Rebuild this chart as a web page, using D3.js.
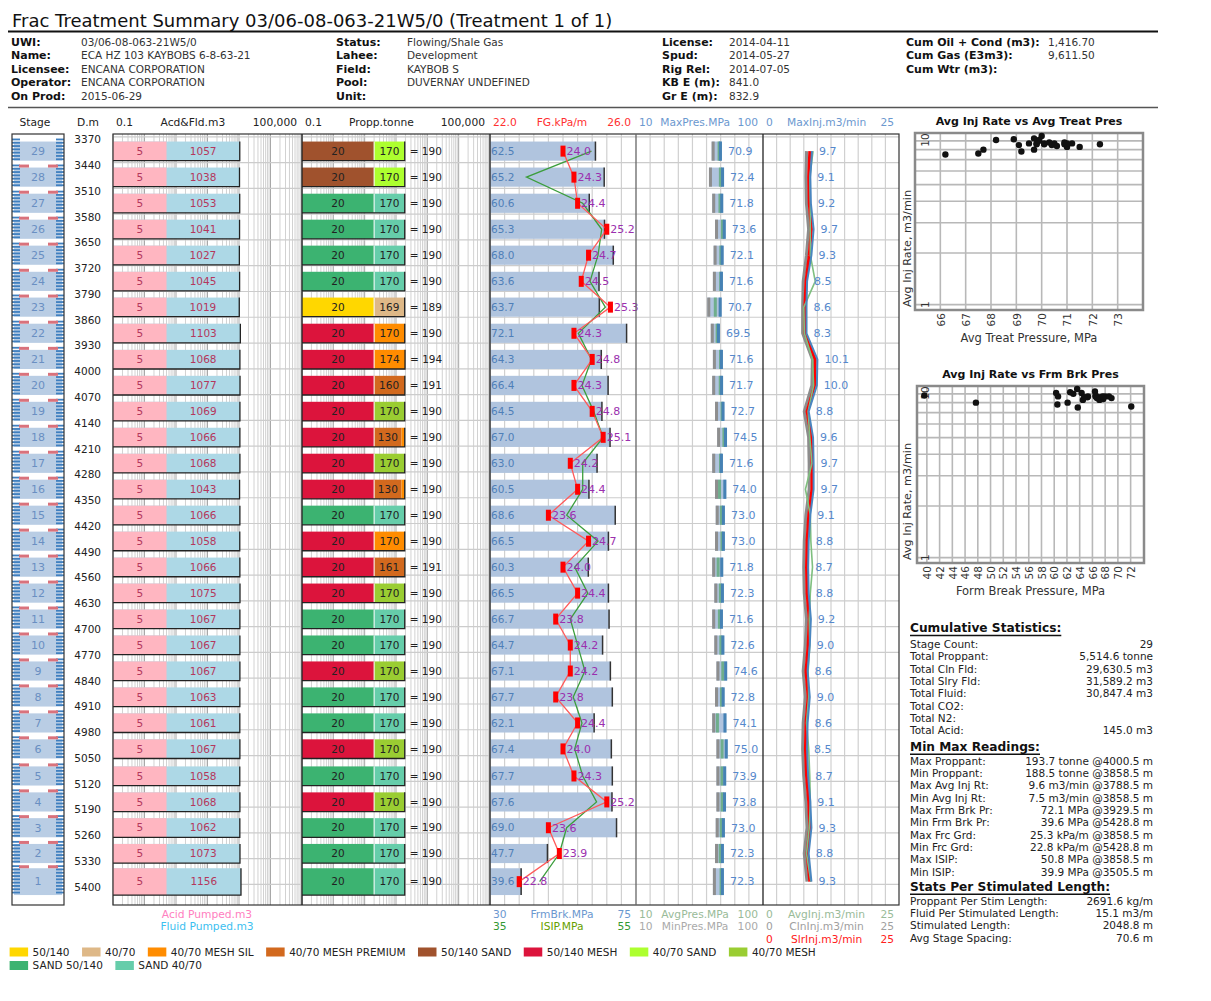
<!DOCTYPE html>
<html>
<head>
<meta charset="utf-8">
<style> body { margin: 0; background: #fff; } </style>
<script src="https://d3js.org/d3.v7.min.js"></script>
</head>
<body>
<div id="chart"></div>
<script>

// ---------- well header ----------
var title = "Frac Treatment Summary 03/06-08-063-21W5/0 (Treatment 1 of 1)";
var headLabels1 = ["UWI:", "Name:", "Licensee:", "Operator:", "On Prod:"];
var headValues1 = ["03/06-08-063-21W5/0", "ECA HZ 103 KAYBOBS 6-8-63-21", "ENCANA CORPORATION", "ENCANA CORPORATION", "2015-06-29"];
var headLabels2 = ["Status:", "Lahee:", "Field:", "Pool:", "Unit:"];
var headValues2 = ["Flowing/Shale Gas", "Development", "KAYBOB S", "DUVERNAY UNDEFINED", ""];
var headLabels3 = ["License:", "Spud:", "Rig Rel:", "KB E (m):", "Gr E (m):"];
var headValues3 = ["2014-04-11", "2014-05-27", "2014-07-05", "841.0", "832.9"];
var headLabels4 = ["Cum Oil + Cond (m3):", "Cum Gas (E3m3):", "Cum Wtr (m3):"];
var headValues4 = ["1,416.70", "9,611.50", ""];

// ---------- stages, listed from the top of the lateral down ----------
var stages = [29,28,27,26,25,24,23,22,21,20,19,18,17,16,15,14,13,12,11,10,9,8,7,6,5,4,3,2,1];
var stageTop  = [3382.9,3453.5,3524.5,3595.0,3665.5,3736.5,3806.5,3877.5,3948.5,4019.0,4089.5,4160.0,4230.5,4301.0,4371.5,4442.0,4512.5,4583.0,4653.5,4724.0,4794.5,4865.0,4935.5,5006.0,5079.5,5150.0,5220.0,5290.0,5356.0];
var stageBase = [3434.9,3505.5,3576.5,3647.0,3717.5,3788.5,3858.5,3929.5,4000.5,4071.0,4141.5,4212.0,4282.5,4353.0,4423.5,4494.0,4564.5,4635.0,4705.5,4776.0,4846.5,4917.0,4987.5,5058.0,5131.5,5202.0,5272.0,5342.0,5428.8];
var depthTicks = [3370,3440,3510,3580,3650,3720,3790,3860,3930,4000,4070,4140,4210,4280,4350,4420,4490,4560,4630,4700,4770,4840,4910,4980,5050,5120,5190,5260,5330,5400];

var acid  = [5,5,5,5,5,5,5,5,5,5,5,5,5,5,5,5,5,5,5,5,5,5,5,5,5,5,5,5,5];
var fluid = [1057,1038,1053,1041,1027,1045,1019,1103,1068,1077,1069,1066,1068,1043,1066,1058,1066,1075,1067,1067,1067,1063,1061,1067,1058,1068,1062,1073,1156];

var prop1 = [20,20,20,20,20,20,20,20,20,20,20,20,20,20,20,20,20,20,20,20,20,20,20,20,20,20,20,20,20];
var prop2 = [170,170,170,170,170,170,169,170,174,160,170,130,170,130,170,170,161,170,170,170,170,170,170,170,170,170,170,170,170];
var prop3 = [0,0,0,0,0,0,0,0,0,11,0,40,0,40,0,0,10,0,0,0,0,0,0,0,0,0,0,0,0];
var propTotal = [190,190,190,190,190,190,189,190,194,191,190,190,190,190,190,190,191,190,190,190,190,190,190,190,190,190,190,190,190];
var prop1Type = ["50/140 SAND","50/140 SAND","SAND 50/140","SAND 50/140","SAND 50/140","SAND 50/140","50/140",
  "50/140 MESH","50/140 MESH","50/140 MESH","50/140 MESH","50/140 MESH","50/140 MESH","50/140 MESH","SAND 50/140",
  "50/140 MESH","50/140 MESH","50/140 MESH","SAND 50/140","SAND 50/140","50/140 MESH","SAND 50/140","SAND 50/140",
  "50/140 MESH","SAND 50/140","50/140 MESH","SAND 50/140","SAND 50/140","SAND 50/140"];
var prop2Type = ["40/70 SAND","40/70 SAND","SAND 40/70","SAND 40/70","SAND 40/70","SAND 40/70","40/70",
  "40/70 MESH SIL","40/70 MESH SIL","40/70 MESH PREMIUM","40/70 MESH","40/70 MESH PREMIUM","40/70 MESH","40/70 MESH PREMIUM","SAND 40/70",
  "40/70 MESH SIL","40/70 MESH PREMIUM","40/70 MESH","SAND 40/70","SAND 40/70","40/70 MESH","SAND 40/70","SAND 40/70",
  "40/70 MESH","SAND 40/70","40/70 MESH","SAND 40/70","SAND 40/70","SAND 40/70"];
var prop3Type = ["","","","","","","","","","40/70 MESH SIL","","40/70 MESH SIL","","40/70 MESH SIL","","","40/70 MESH SIL","","","","","","","","","","","",""];

var fracGrad = [24.0,24.3,24.4,25.2,24.7,24.5,25.3,24.3,24.8,24.3,24.8,25.1,24.2,24.4,23.6,24.7,24.0,24.4,23.8,24.2,24.2,23.8,24.4,24.0,24.3,25.2,23.6,23.9,22.8];
var frmBrk = [62.5,65.2,60.6,65.3,68.0,63.6,63.7,72.1,64.3,66.4,64.5,67.0,63.0,60.5,68.6,66.5,60.3,66.5,66.7,64.7,67.1,67.7,62.1,67.4,67.7,67.6,69.0,47.7,39.6];
var isip = [48.9,40.0,47.7,50.3,49.8,48.7,50.8,47.1,48.9,47.6,49.2,50.5,47.7,47.7,45.5,49.8,46.6,48.4,46.0,47.0,48.0,46.4,47.6,46.6,47.7,49.6,45.5,44.5,41.8];

var maxPres = [70.9,72.4,71.8,73.6,72.1,71.6,70.7,69.5,71.6,71.7,72.7,74.5,71.6,74.0,73.0,73.0,71.8,72.3,71.6,72.6,74.6,72.8,74.1,75.0,73.9,73.8,73.0,72.3,72.3];
var avgPres = [68.9,69.8,69.5,71.2,70.1,70.0,66.2,67.5,69.9,69.7,71.0,72.3,69.9,69.2,70.5,70.9,68.2,69.8,69.1,70.1,71.5,70.6,67.7,71.0,70.9,71.0,70.4,69.7,70.3];
var minPres = [63.6,61.7,64.0,66.0,65.0,64.5,60.5,63.0,64.5,64.0,66.0,67.5,64.0,66.0,66.5,66.0,64.0,65.5,64.0,65.5,67.0,66.0,64.0,67.0,67.0,67.0,66.5,66.0,64.5];

var avgInj = [9.2,8.6,8.7,8.7,8.7,9.6,7.5,7.6,9.1,9.3,8.3,8.6,9.0,7.8,8.7,8.8,9.1,8.7,8.5,8.6,8.3,8.4,8.0,8.4,8.6,8.7,8.5,8.0,8.8];
var maxInj = [9.0,8.7,8.8,9.3,8.9,8.1,8.0,8.0,10.0,9.9,8.4,9.2,9.3,9.3,8.7,8.4,8.3,8.4,8.8,8.6,8.2,8.6,8.2,8.1,8.3,8.7,8.9,8.4,8.9];
var slrInj = [8.6,8.4,8.5,8.9,8.5,7.9,7.7,7.7,9.6,9.5,8.1,8.9,9.0,9.0,8.4,8.1,8.0,8.1,8.5,8.3,7.9,8.3,7.9,7.8,8.0,8.4,8.6,8.1,8.6];
var clnInj = [8.0,7.9,8.0,8.4,8.0,7.4,7.3,7.3,9.1,9.0,7.6,8.4,8.5,8.5,7.9,7.6,7.5,7.6,8.0,7.8,7.4,7.8,7.4,7.3,7.5,7.9,8.1,7.6,8.1];
var injLabel = ["9.7","9.1","9.2","9.7","9.3","8.5","8.6","8.3","10.1","10.0","8.8","9.6","9.7","9.7","9.1","8.8","8.7","8.8","9.2","9.0","8.6","9.0","8.6","8.5","8.7","9.1","9.3","8.8","9.3"];

// ---------- proppant legend ----------
var propTypes  = ["50/140","40/70","40/70 MESH SIL","40/70 MESH PREMIUM","50/140 SAND","50/140 MESH","40/70 SAND","40/70 MESH","SAND 50/140","SAND 40/70"];
var propColors = ["#ffd700","#deb887","#ff8c00","#d2691e","#a0522d","#dc143c","#adff2f","#9acd32","#3cb371","#66cdaa"];

// ---------- scatter axes ----------
var presTicks = [66,67,68,69,70,71,72,73];
var brkTicks = [40,42,44,46,48,50,52,54,56,58,60,62,64,66,68,70,72];
var injTicks = [1,2,3,4,5,6,7,8,9,10];

// ---------- statistics ----------
var statsCum = [["Stage Count:","29"],["Total Proppant:","5,514.6 tonne"],["Total Cln Fld:","29,630.5 m3"],["Total Slry Fld:","31,589.2 m3"],
  ["Total Fluid:","30,847.4 m3"],["Total CO2:",""],["Total N2:",""],["Total Acid:","145.0 m3"]];
var statsMinMax = [["Max Proppant:","193.7 tonne @4000.5 m"],["Min Proppant:","188.5 tonne @3858.5 m"],["Max Avg Inj Rt:","9.6 m3/min @3788.5 m"],
  ["Min Avg Inj Rt:","7.5 m3/min @3858.5 m"],["Max Frm Brk Pr:","72.1 MPa @3929.5 m"],["Min Frm Brk Pr:","39.6 MPa @5428.8 m"],
  ["Max Frc Grd:","25.3 kPa/m @3858.5 m"],["Min Frc Grd:","22.8 kPa/m @5428.8 m"],["Max ISIP:","50.8 MPa @3858.5 m"],["Min ISIP:","39.9 MPa @3505.5 m"]];
var statsLen = [["Proppant Per Stim Length:","2691.6 kg/m"],["Fluid Per Stimulated Length:","15.1 m3/m"],["Stimulated Length:","2048.8 m"],["Avg Stage Spacing:","70.6 m"]];


var FONT = '"DejaVu Sans", Verdana, sans-serif';
var svg = d3.select("#chart").append("svg")
    .attr("width", 1211)
    .attr("height", 1001)
    .attr("font-family", FONT);

function txt(g, x, y, s, o) {
    o = o || {};
    return g.append("text")
        .attr("x", x).attr("y", y).attr("dy", "0.35em")
        .attr("font-size", o.size || 10.5)
        .attr("fill", o.fill || "#222")
        .attr("font-weight", o.weight || "normal")
        .attr("text-anchor", o.anchor || "start")
        .text(s);
}
function hline(g, x1, x2, yy, col, w) {
    return g.append("line").attr("x1", x1).attr("x2", x2).attr("y1", yy).attr("y2", yy)
        .attr("stroke", col).attr("stroke-width", w || 1);
}
function vline(g, xx, y1, y2, col, w) {
    return g.append("line").attr("x1", xx).attr("x2", xx).attr("y1", y1).attr("y2", y2)
        .attr("stroke", col).attr("stroke-width", w || 1);
}

// ---------- title & header ----------
txt(svg, 12, 21, title, {size: 18, fill: "#111"});
hline(svg, 8, 1158, 31.5, "#111", 2);

var headY = [42, 55.5, 69, 82.5, 96];
[[11, 81, headLabels1, headValues1], [336, 407, headLabels2, headValues2],
 [662, 729, headLabels3, headValues3], [906, 1048, headLabels4, headValues4]].forEach(function(c) {
    c[2].forEach(function(l, i) {
        txt(svg, c[0], headY[i], l, {size: 11, weight: "bold", fill: "#111"});
        txt(svg, c[1], headY[i], c[3][i], {fill: "#333"});
    });
});
hline(svg, 8, 1158, 107.5, "#555", 1.5);

// ---------- layout & scales ----------
var plotTop = 134, plotBot = 905;
var y = d3.scaleLinear().domain([3362.4, 5455.8]).range([plotTop, plotBot]);
var xAcd  = d3.scaleLog().domain([0.1, 100000]).range([113, 302]);
var xProp = d3.scaleLog().domain([0.1, 100000]).range([302, 490]);
var xFG   = d3.scaleLinear().domain([22, 26]).range([490, 636]);
var xBrk  = d3.scaleLinear().domain([30, 75]).range([490, 636]);
var xIsip = d3.scaleLinear().domain([35, 55]).range([490, 636]);
var xPres = d3.scaleLinear().domain([10, 100]).range([636, 763]);
var xInj  = d3.scaleLinear().domain([0, 25]).range([763, 899]);
var propColor = d3.scaleOrdinal().domain(propTypes).range(propColors);

var rows = stages.map(function(s, i) {
    return {stage: s, top: stageTop[i], base: stageBase[i], acid: acid[i], fluid: fluid[i],
        p1: prop1[i], p2: prop2[i], p3: prop3[i], pt: propTotal[i], t1: prop1Type[i], t2: prop2Type[i], t3: prop3Type[i],
        fg: fracGrad[i], brk: frmBrk[i], isip: isip[i],
        pMin: minPres[i], pAvg: avgPres[i], pMax: maxPres[i],
        iAvg: avgInj[i], iMax: maxInj[i], iSlr: slrInj[i], iCln: clnInj[i], iLbl: injLabel[i]};
});
function mid(r) { return (y(r.top) + y(r.base)) / 2; }

// ---------- track headers / footers ----------
function trackLabel(x0, x1, yy, lo, name, hi, cols) {
    var a = txt(svg, x0 + 3, yy, lo, {fill: cols[0], size: 10.7});
    var b = txt(svg, x1 - 5, yy, hi, {fill: cols[2], size: 10.7, anchor: "end"});
    var ax = x0 + 3 + a.node().getComputedTextLength();
    var bx = x1 - 5 - b.node().getComputedTextLength();
    txt(svg, (ax + bx) / 2, yy, name, {fill: cols[1], size: 10.7, anchor: "middle"});
}
txt(svg, 35, 122, "Stage", {size: 10.7, anchor: "middle"});
txt(svg, 88, 122, "D.m", {size: 10.7, anchor: "middle"});
trackLabel(113, 302, 122, "0.1", "Acd&Fld.m3", "100,000", ["#222", "#222", "#222"]);
trackLabel(302, 490, 122, "0.1", "Propp.tonne", "100,000", ["#222", "#222", "#222"]);
trackLabel(490, 636, 122, "22.0", "FG.kPa/m", "26.0", ["#ff3030", "#ff3030", "#ff3030"]);
trackLabel(636, 763, 122, "10", "MaxPres.MPa", "100", ["#6b98cf", "#6b98cf", "#6b98cf"]);
trackLabel(763, 899, 122, "0", "MaxInj.m3/min", "25", ["#6b98cf", "#6b98cf", "#6b98cf"]);

txt(svg, 207, 914, "Acid Pumped.m3", {size: 10.7, fill: "#ff80c0", anchor: "middle"});
txt(svg, 207, 926.5, "Fluid Pumped.m3", {size: 10.7, fill: "#3cc0f0", anchor: "middle"});
trackLabel(490, 636, 914, "30", "FrmBrk.MPa", "75", ["#6b98cf", "#6b98cf", "#6b98cf"]);
trackLabel(490, 636, 926.5, "35", "ISIP.MPa", "55", ["#339933", "#66a000", "#339933"]);
trackLabel(636, 763, 914, "10", "AvgPres.MPa", "100", ["#99bb99", "#99bb99", "#99bb99"]);
trackLabel(636, 763, 926.5, "10", "MinPres.MPa", "100", ["#aaaaaa", "#aaaaaa", "#aaaaaa"]);
trackLabel(763, 899, 914, "0", "AvgInj.m3/min", "25", ["#99bb99", "#99bb99", "#99bb99"]);
trackLabel(763, 899, 926.5, "0", "ClnInj.m3/min", "25", ["#a0a0a0", "#a0a0a0", "#a0a0a0"]);
trackLabel(763, 899, 939, "0", "SlrInj.m3/min", "25", ["#ff2020", "#ff2020", "#ff2020"]);

// ---------- grid ----------
var grid = svg.append("g");
[xAcd, xProp].forEach(function(sc) {
    sc.ticks().forEach(function(t) {
        var major = Math.abs(Math.log10(t) - Math.round(Math.log10(t))) < 1e-6;
        vline(grid, sc(t), plotTop, plotBot, major ? "#a8a8a8" : "#d2d2d2", 1);
    });
});
[[490, 636, 10], [636, 763, 9], [763, 899, 10]].forEach(function(c) {
    for (var k = 1; k < c[2]; k++) {
        vline(grid, c[0] + k * (c[1] - c[0]) / c[2], plotTop, plotBot, "#d0d0d0", 1.2);
    }
});
depthTicks.forEach(function(d) { hline(grid, 113, 899, y(d), "#cccccc", 1.2); });

// depth labels
var gd = svg.append("g").attr("transform", "translate(101,2.5)")
    .call(d3.axisLeft(y).tickValues(depthTicks).tickSize(0).tickPadding(0).tickFormat(d3.format("d")));
gd.select(".domain").remove();
gd.attr("font-family", FONT).attr("font-size", 10.5);
gd.selectAll("text").attr("fill", "#222");

// ---------- stage column ----------
var stG = svg.append("g");
rows.forEach(function(r, i) {
    var y0 = y(r.top), y1 = y(r.base);
    stG.append("rect").attr("x", 14).attr("y", y0).attr("width", 48).attr("height", y1 - y0).attr("fill", "#b9cde4");
    for (var yy = y0 - 3; yy < y1 - 1; yy += 3.3) {
        stG.append("rect").attr("x", 12).attr("y", yy).attr("width", 8).attr("height", 1.8).attr("fill", "#3f7fbf");
        stG.append("rect").attr("x", 56).attr("y", yy).attr("width", 8).attr("height", 1.8).attr("fill", "#3f7fbf");
    }
    if (i > 0) {
        stG.append("rect").attr("x", 19).attr("y", y0 - 3).attr("width", 10).attr("height", 3).attr("fill", "#d9727c");
        stG.append("rect").attr("x", 48).attr("y", y0 - 3).attr("width", 10).attr("height", 3).attr("fill", "#d9727c");
    }
    txt(stG, 38, (y0 + y1) / 2, r.stage, {fill: "#6a8fc2", anchor: "middle", size: 11});
});
stG.append("rect").attr("x", 12).attr("y", plotTop).attr("width", 52).attr("height", plotBot - plotTop)
    .attr("fill", "none").attr("stroke", "#333").attr("stroke-width", 1.2);

// ---------- acid & fluid ----------
var acG = svg.append("g");
rows.forEach(function(r) {
    var y0 = y(r.top), y1 = y(r.base), x0 = xAcd(0.1);
    acG.append("rect").attr("x", x0).attr("y", y0).attr("width", xAcd(r.fluid) - x0).attr("height", y1 - y0).attr("fill", "#add8e6");
    acG.append("rect").attr("x", x0).attr("y", y0).attr("width", xAcd(r.acid) - x0).attr("height", y1 - y0).attr("fill", "#ffb6c1");
    acG.append("path").attr("d", "M" + x0 + "," + y1 + "H" + xAcd(r.fluid) + "V" + y0)
        .attr("fill", "none").attr("stroke", "#222").attr("stroke-width", 1.3);
    txt(acG, (x0 + xAcd(r.acid)) / 2, mid(r), r.acid, {fill: "#b4375c", anchor: "middle"});
    txt(acG, (xAcd(r.acid) + xAcd(r.fluid)) / 2, mid(r), r.fluid, {fill: "#b4375c", anchor: "middle"});
});

// ---------- proppant ----------
var prG = svg.append("g");
rows.forEach(function(r) {
    var y0 = y(r.top), y1 = y(r.base), x0 = xProp(0.1), xa = xProp(r.p1), xb = xProp(r.p1 + r.p2),
        xc = xProp(r.p1 + r.p2 + r.p3);
    prG.append("rect").attr("x", x0).attr("y", y0).attr("width", xa - x0).attr("height", y1 - y0).attr("fill", propColor(r.t1));
    prG.append("rect").attr("x", xa).attr("y", y0).attr("width", xb - xa).attr("height", y1 - y0).attr("fill", propColor(r.t2));
    if (r.p3 > 0) {
        prG.append("rect").attr("x", xb).attr("y", y0).attr("width", xc - xb).attr("height", y1 - y0).attr("fill", propColor(r.t3));
    }
    vline(prG, xa, y0, y1, "#fff", 1);
    prG.append("path").attr("d", "M" + x0 + "," + y1 + "H" + xc + "V" + y0)
        .attr("fill", "none").attr("stroke", "#222").attr("stroke-width", 1.3);
    txt(prG, (x0 + xa) / 2, mid(r), r.p1, {anchor: "middle"});
    txt(prG, (xa + xb) / 2, mid(r), r.p2, {anchor: "middle"});
    txt(prG, xProp(r.pt) + 5, mid(r), "= " + r.pt, {});
});

// ---------- break pressure, ISIP, frac gradient ----------
var fgG = svg.append("g");
rows.forEach(function(r) {
    var y0 = y(r.top), y1 = y(r.base);
    fgG.append("rect").attr("x", xBrk(30)).attr("y", y0).attr("width", xBrk(r.brk) - xBrk(30)).attr("height", y1 - y0).attr("fill", "#b0c4de");
    vline(fgG, xBrk(r.brk), y0, y1, "#333", 1.5);
    txt(fgG, 491, mid(r), r.brk.toFixed(1), {fill: "#4f7fb8"});
});
fgG.append("path").datum(rows)
    .attr("d", d3.line().x(function(r) { return xIsip(r.isip); }).y(mid))
    .attr("fill", "none").attr("stroke", "#3c9e3c").attr("stroke-width", 1.3);
fgG.append("path").datum(rows)
    .attr("d", d3.line().x(function(r) { return xFG(r.fg); }).y(mid))
    .attr("fill", "none").attr("stroke", "#ff5a5a").attr("stroke-width", 1.3);
rows.forEach(function(r) {
    fgG.append("rect").attr("x", xFG(r.fg) - 2.5).attr("y", mid(r) - 5.5).attr("width", 5).attr("height", 11).attr("fill", "#ff0000");
    txt(fgG, xFG(r.fg) + 3.5, mid(r), r.fg.toFixed(1), {fill: "#9b2fae", size: 11});
});

// ---------- treating pressure ----------
var psG = svg.append("g");
rows.forEach(function(r) {
    var y0 = y(r.top), y1 = y(r.base);
    psG.append("rect").attr("x", xPres(r.pMin)).attr("y", y0).attr("width", xPres(r.pMax) - xPres(r.pMin)).attr("height", y1 - y0).attr("fill", "#b0c4de");
    psG.append("rect").attr("x", xPres(r.pMin)).attr("y", y0).attr("width", 3).attr("height", y1 - y0).attr("fill", "#8e8e8e");
    psG.append("rect").attr("x", xPres(r.pAvg) - 1.5).attr("y", y0).attr("width", 3).attr("height", y1 - y0).attr("fill", "#6fae8c");
    psG.append("rect").attr("x", xPres(r.pMax) - 3).attr("y", y0).attr("width", 3).attr("height", y1 - y0).attr("fill", "#4682b4");
    txt(psG, xPres(r.pMax) + 6, mid(r), r.pMax.toFixed(1), {fill: "#5588cc", size: 11});
});

// ---------- injection rates ----------
var inG = svg.append("g");
[["iCln", "#8c8c8c", 3.2], ["iSlr", "#ff0000", 3], ["iAvg", "#7fbf7f", 1.6], ["iMax", "#4a86c0", 2]].forEach(function(s) {
    inG.append("path").datum(rows)
        .attr("d", d3.line().x(function(r) { return xInj(r[s[0]]); }).y(mid))
        .attr("fill", "none").attr("stroke", s[1]).attr("stroke-width", s[2]).attr("stroke-linejoin", "round");
});
rows.forEach(function(r) {
    txt(inG, xInj(r.iMax) + 7, mid(r), r.iLbl, {fill: "#5588cc", size: 11});
});

// ---------- borders ----------
svg.append("rect").attr("x", 113).attr("y", plotTop).attr("width", 786).attr("height", plotBot - plotTop)
    .attr("fill", "none").attr("stroke", "#333").attr("stroke-width", 1.2);
[302, 490, 763].forEach(function(xx) { vline(svg, xx, plotTop, plotBot, "#222", 1.3); });
vline(svg, 636, plotTop, plotBot, "#666", 1.3);

// ---------- scatter plots ----------
function scatter(o) {
    var g = svg.append("g");
    var x = d3.scaleLinear().domain(o.xDomain).range([o.x0, o.x1]);
    var yy = d3.scaleLog().domain([0.93, 10]).range([o.y1, o.y0]);
    o.xTicks.forEach(function(t) { vline(g, x(t), o.y0, o.y1, "#b8b8b8", 1.6); });
    injTicks.forEach(function(t) { hline(g, o.x0, o.x1, yy(t), "#b8b8b8", 1.6); });
    g.append("rect").attr("x", o.x0).attr("y", o.y0).attr("width", o.x1 - o.x0).attr("height", o.y1 - o.y0)
        .attr("fill", "none").attr("stroke", "#8a8a8a").attr("stroke-width", 2.5);

    var ax = g.append("g").attr("transform", "translate(0," + o.y1 + ")")
        .call(d3.axisBottom(x).tickValues(o.xTicks).tickSize(0).tickFormat(d3.format("d")));
    ax.select(".domain").remove();
    ax.attr("font-family", FONT).attr("font-size", 10.5);
    ax.selectAll("text").attr("fill", "#333").attr("transform", "rotate(-90)")
        .attr("text-anchor", "end").attr("x", -3).attr("y", 0).attr("dy", "0.35em");

    [[10, o.y0 + 7], [1, yy(1)]].forEach(function(t) {
        g.append("text").attr("transform", "translate(925," + t[1] + ") rotate(-90)")
            .attr("dy", "0.35em").attr("text-anchor", "middle").attr("font-size", 10.5).attr("fill", "#333").text(t[0]);
    });
    g.append("text").attr("transform", "translate(907," + (o.y1 - 3) + ") rotate(-90)")
        .attr("dy", "0.35em").attr("font-size", 11.2).attr("fill", "#333").text("Avg Inj Rate, m3/min");
    txt(g, (o.x0 + o.x1) / 2, o.y1 + 28, o.xTitle, {size: 11.5, fill: "#333", anchor: "middle"});
    txt(g, (o.x0 + o.x1) / 2, o.y0 - 12, o.title, {size: 11, weight: "bold", fill: "#111", anchor: "middle"});

    g.selectAll("circle").data(rows).enter().append("circle")
        .attr("cx", function(r) { return x(r[o.key]); })
        .attr("cy", function(r) { return yy(r.iAvg); })
        .attr("r", 3.2).attr("fill", "#111");
}
scatter({x0: 915, x1: 1143, y0: 133, y1: 310, xDomain: [65, 74], xTicks: presTicks, key: "pAvg",
    title: "Avg Inj Rate vs Avg Treat Pres", xTitle: "Avg Treat Pressure, MPa"});
scatter({x0: 917, x1: 1144, y0: 386, y1: 563, xDomain: [38.45, 74.1], xTicks: brkTicks, key: "brk",
    title: "Avg Inj Rate vs Frm Brk Pres", xTitle: "Form Break Pressure, MPa"});

// ---------- statistics ----------
var stats = svg.append("g");
[[628, 644.3, "Cumulative Statistics:", statsCum], [746.7, 761, "Min Max Readings:", statsMinMax],
 [886.7, 901, "Stats Per Stimulated Length:", statsLen]].forEach(function(s) {
    var h = txt(stats, 910, s[0], s[2], {size: 12.2, weight: "bold", fill: "#111"});
    hline(stats, 910, 910 + h.node().getComputedTextLength(), s[0] + 7.5, "#111", 1.5);
    s[3].forEach(function(p, i) {
        txt(stats, 910, s[1] + i * 12.33, p[0], {fill: "#222"});
        txt(stats, 1153, s[1] + i * 12.33, p[1], {fill: "#222", anchor: "end"});
    });
});

// ---------- legend ----------
var lg = svg.append("g");
var lx = 9.6, ly = 952;
propTypes.forEach(function(p) {
    var probe = txt(lg, 0, 0, p, {});
    var w = probe.node().getComputedTextLength();
    probe.remove();
    if (lx + 23 + w > 900) { lx = 9.6; ly += 13.5; }
    lg.append("rect").attr("x", lx).attr("y", ly - 4.5).attr("width", 18.5).attr("height", 9).attr("fill", propColor(p));
    txt(lg, lx + 23, ly, p, {fill: "#222"});
    lx += 23 + w + 12.5;
});

</script>
</body>
</html>
